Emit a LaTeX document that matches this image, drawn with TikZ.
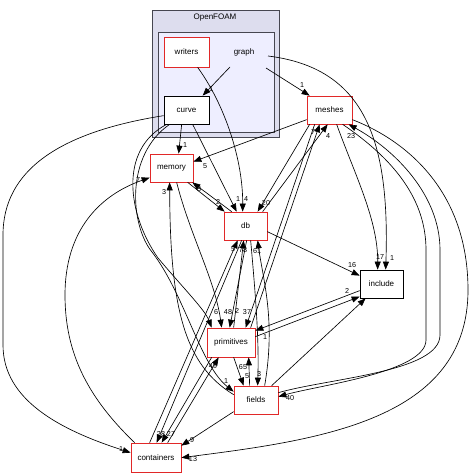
\documentclass[tikz,border=0pt]{standalone}
\usepackage{fontspec}
\setmainfont{Liberation Sans}
\usetikzlibrary{arrows.meta}
\definecolor{nodered}{RGB}{225,40,40}
\definecolor{outerfill}{RGB}{221,221,238}
\definecolor{innerfill}{RGB}{238,238,255}
\definecolor{clline}{RGB}{70,70,80}
\begin{document}
\begin{tikzpicture}[x=1pt,y=-1pt,
  box/.style={draw=nodered, fill=white, line width=0.7pt, inner sep=0pt, font=\fontsize{8}{9}\selectfont},
  plain/.style={inner sep=0pt, font=\fontsize{8}{9}\selectfont},
  conn/.style={draw=black, line width=0.65pt, -{Triangle[length=8pt,width=6pt]}},
  lbl/.style={inner sep=0pt, font=\fontsize{7.2}{8}\selectfont}]
\useasboundingbox (0,0) rectangle (474,476);
\fill[white] (0,0) rectangle (474,476);
% clusters
\draw[fill=outerfill, draw=clline, line width=0.7pt] (152,10) rectangle (279,137);
\draw[fill=innerfill, draw=clline, line width=0.7pt] (158,32) rectangle (274,132);
\node[plain] (ofl) at (215,18) {OpenFOAM};
\node[plain] (graphlbl) at (244,52) {graph};
% nodes
\node[box, minimum width=45pt, minimum height=30pt] (writers) at (186.5,52) {writers};
\node[box, draw=black, minimum width=45pt, minimum height=28pt] (curve) at (186.5,110) {curve};
\node[box, minimum width=45pt, minimum height=28pt] (meshes) at (329.5,110) {meshes};
\node[box, minimum width=43pt, minimum height=28pt] (memory) at (171.5,168) {memory};
\node[box, minimum width=43pt, minimum height=28pt] (db) at (245.5,226) {db};
\node[box, draw=black, minimum width=43pt, minimum height=28pt] (include) at (381.5,284) {include};
\node[box, minimum width=48pt, minimum height=29pt] (primitives) at (231,342.5) {primitives};
\node[box, minimum width=44pt, minimum height=28pt] (fields) at (256,400) {fields};
\node[box, minimum width=50pt, minimum height=29pt] (containers) at (156,457.5) {containers};
% edges from graph
\draw[conn] ([xshift=-14pt,yshift=-15pt]graphlbl.center) -- ([xshift=39pt]curve.north west);
\draw[conn] ([xshift=22pt,yshift=-16pt]graphlbl.center) -- ([xshift=3pt]meshes.north west);
\draw[conn] ([xshift=24pt,yshift=-4pt]graphlbl.center) .. controls (365,68) and (390,140) .. ([xshift=26pt]include.north west);
% writers
\draw[conn] ([xshift=34pt]writers.south west) .. controls (225,105) and (243,160) .. ([xshift=19pt]db.north west);
% curve
\draw[conn] ([xshift=18pt]curve.south west) -- ([xshift=29pt]memory.north west);
\draw[conn] ([xshift=29pt]curve.south west) -- ([xshift=13pt]db.north west);
\draw[conn] ([xshift=3pt]curve.south west) .. controls (118,150) and (128,215) .. (158,258) .. controls (185,290) and (205,310) .. ([xshift=5pt]primitives.north west);
\draw[conn] ([xshift=6pt]curve.south west) .. controls (125,155) and (130,225) .. (152,252) .. controls (185,295) and (200,365) .. ([yshift=-6pt]fields.north west);
\draw[conn] ([yshift=-20pt]curve.north west) .. controls (60,132) and (3,170) .. (3,235) -- (3,345) .. controls (3,400) and (60,430) .. ([yshift=-10pt]containers.north west);
% containers -> memory
\draw[conn] ([xshift=4pt]containers.north west) .. controls (85,395) and (65,350) .. (65,295) .. controls (65,230) and (100,195) .. ([yshift=-24pt]memory.north west);
% meshes
\draw[conn] ([yshift=-24pt]meshes.north west) -- ([yshift=-8pt]memory.north east);
\draw[conn] ([xshift=3pt]meshes.south west) -- ([xshift=34pt]db.north west);
\draw[conn] ([xshift=39pt]db.north west) -- ([xshift=21pt]meshes.south west);
\draw[conn] ([xshift=44pt]primitives.north west) -- ([xshift=13pt]meshes.south west);
\draw[conn] ([xshift=8pt]meshes.south west) -- ([xshift=39pt]primitives.north west);
\draw[conn] ([xshift=30pt]meshes.south west) .. controls (355,175) and (378,220) .. ([xshift=18pt]include.north west);
\draw[conn] ([xshift=36pt]meshes.south west) .. controls (395,160) and (426,200) .. (426,250) -- (426,340) .. controls (426,372) and (320,385) .. ([yshift=-11pt]fields.north east);
\draw[conn] ([yshift=-7pt]fields.north east) .. controls (330,378) and (440,372) .. (440,335) -- (440,250) .. controls (440,195) and (395,150) .. ([xshift=42pt]meshes.south west);
\draw[conn] ([yshift=-24pt]meshes.north east) .. controls (405,140) and (468,190) .. (468,290) .. controls (468,420) and (320,440) .. ([yshift=-15pt]containers.north east);
% memory / db
\draw[conn] ([xshift=38pt]memory.south west) -- ([xshift=1pt]db.north west);
\draw[conn] ([xshift=8pt]db.north west) -- ([xshift=-1pt]memory.south east);
\draw[conn] ([yshift=-20pt]db.north east) -- ([yshift=-6pt]include.north west);
\draw[conn] ([xshift=27pt]memory.south west) .. controls (190,235) and (215,280) .. ([xshift=15pt]primitives.north west);
\draw[conn] ([yshift=-9pt]fields.north west) .. controls (185,365) and (170,310) .. ([xshift=20pt]memory.south west);
% db bottom
\draw[conn] ([xshift=19pt]containers.north west) -- ([xshift=14pt]db.south west);
\draw[conn] ([xshift=18pt]db.south west) -- ([xshift=26pt]containers.north west);
\draw[conn] ([xshift=27pt]primitives.north west) -- ([xshift=20pt]db.south west);
\draw[conn] ([xshift=23pt]db.south west) -- ([xshift=23pt]primitives.north west);
\draw[conn] ([xshift=31pt]fields.north west) .. controls (276,320) and (263,280) .. ([xshift=34pt]db.south west);
\draw[conn] ([xshift=27pt]db.south west) .. controls (256,300) and (259,340) .. ([xshift=24pt]fields.north west);
% primitives / fields / containers
\draw[conn] ([xshift=27pt]primitives.south west) -- ([xshift=10pt]fields.north west);
\draw[conn] ([xshift=16pt]fields.north west) -- ([xshift=42pt]primitives.south west);
\draw[conn] ([xshift=37pt]containers.north west) -- ([xshift=12pt]primitives.south west);
\draw[conn] ([xshift=5pt]primitives.south west) -- ([xshift=31pt]containers.north west);
\draw[conn] ([yshift=-26pt]fields.north west) -- ([yshift=-3pt]containers.north east);
% include
\draw[conn] ([yshift=-9pt]primitives.north east) -- ([yshift=-27pt]include.north west);
\draw[conn] ([yshift=-21pt]include.north west) -- ([yshift=-3pt]primitives.north east);
\draw[conn] ([xshift=38pt]fields.north west) -- ([xshift=6pt]include.south west);
% labels
\node[lbl] (l1) at (211,89) {1};
\node[lbl] (l2) at (302,85) {1};
\node[lbl] (l3) at (392,258) {1};
\node[lbl] (l4) at (246,199) {4};
\node[lbl] (l5) at (185,145) {1};
\node[lbl] (l6) at (238,199) {1};
\node[lbl] (l7) at (216,312) {6};
\node[lbl] (l8) at (226,381) {1};
\node[lbl] (l9) at (121,449) {1};
\node[lbl] (l10) at (138,180) {7};
\node[lbl] (l11) at (205,166) {5};
\node[lbl] (l12) at (266,203) {20};
\node[lbl] (l13) at (328,136) {4};
\node[lbl] (l14) at (313,132) {7};
\node[lbl] (l15) at (247,312) {37};
\node[lbl] (l16) at (380,257) {17};
\node[lbl] (l17) at (290,398) {40};
\node[lbl] (l18) at (351,136) {23};
\node[lbl] (l19) at (193,459) {13};
\node[lbl] (l20) at (218,202) {2};
\node[lbl] (l21) at (199,189) {8};
\node[lbl] (l22) at (352,265) {16};
\node[lbl] (l23) at (228,312) {48};
\node[lbl] (l24) at (164,192) {3};
\node[lbl] (l25) at (233,249) {5};
\node[lbl] (l26) at (161,434) {28};
\node[lbl] (l27) at (243,250) {78};
\node[lbl] (l28) at (237,311) {2};
\node[lbl] (l29) at (257,251) {61};
\node[lbl] (l30) at (259,374) {3};
\node[lbl] (l31) at (243,367) {65};
\node[lbl] (l32) at (247,376) {5};
\node[lbl] (l33) at (213,366) {49};
\node[lbl] (l34) at (171,434) {27};
\node[lbl] (l35) at (192,440) {9};
\node[lbl] (l36) at (347,291) {2};
\node[lbl] (l37) at (265,337) {1};
\end{tikzpicture}
\end{document}
